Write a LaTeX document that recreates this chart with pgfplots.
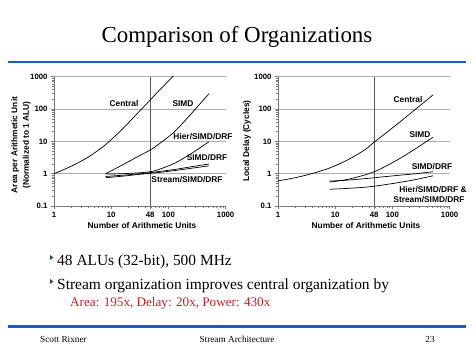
\documentclass[border=0pt]{standalone}
\usepackage{pgfplots}
\pgfplotsset{compat=1.18}
\usepackage{fontspec}
\setmainfont{Liberation Serif}
\setsansfont{Liberation Sans}
\definecolor{slideblue}{RGB}{25,90,205}
\definecolor{gridgray}{RGB}{175,175,175}
\definecolor{axgray}{RGB}{120,120,120}
\definecolor{redtxt}{RGB}{200,30,40}
\definecolor{bulletc}{RGB}{50,70,120}
\newcommand{\labfont}{\sffamily\bfseries\fontsize{8.4}{11.5}\selectfont}
\newcommand{\tickfont}{\sffamily\bfseries\fontsize{7.8}{9}\selectfont}
\begin{document}
\begin{tikzpicture}
\path[use as bounding box] (0,0) rectangle (474bp,-355bp);

% Title and slide decorations
\node[anchor=base, font=\fontsize{23}{27}\selectfont] at (237bp,-42bp) {Comparison of Organizations};
\draw[slideblue, line width=2.7bp] (8bp,-62bp) -- (466bp,-62bp);
\draw[slideblue, line width=2.5bp] (8bp,-326.5bp) -- (466bp,-326.5bp);

% Left plot: area
\begin{axis}[
    at={(54bp,-206bp)}, anchor=south west,
    xmode=log, ymode=log, scale only axis,
    width=171.6bp, height=129.2bp,
    xmin=1, xmax=1000, ymin=0.1, ymax=1000,
    axis x line*=bottom, axis y line*=left,
    axis line style={axgray, line width=0.8bp},
    xtick={1,10,48,100,1000}, xticklabels={1,10,48,100,1000},
    ytick={0.1,1,10,100,1000}, yticklabels={0.1,1,10,100,1000},
    minor xtick={2,3,4,5,6,7,8,9,20,30,40,50,60,70,80,90,200,300,400,500,600,700,800,900},
    ymajorgrids=true,
    major grid style={gridgray, line width=0.8bp},
    tick align=outside,
    major tick length=3bp, minor tick length=2bp,
    tick style={axgray, line width=0.6bp},
    ticklabel style={font=\tickfont, text=black},
  ]
\addplot[color=black!65, line width=1.1bp, mark=none] coordinates {(48,0.1) (48,1000)};
\addplot[black, line width=0.7bp, smooth, mark=none] coordinates {(1,1) (2,1.7) (4,3.3) (8,8) (16,25) (32,90) (48,190) (64,330) (128,1150)};
\addplot[black, line width=0.7bp, smooth, mark=none] coordinates {(8,1) (16,1.9) (32,3.7) (48,5.4) (64,7.6) (128,20) (256,75) (512,300)};
\addplot[black, line width=0.7bp, smooth, mark=none] coordinates {(8,0.97) (16,1.0) (32,1.07) (48,1.15) (64,1.3) (128,2.1) (256,4.3) (512,9.8)};
\addplot[black, line width=0.7bp, smooth, mark=none] coordinates {(8,0.82) (16,0.9) (32,1.0) (48,1.08) (64,1.15) (128,1.35) (256,1.65) (512,2.0)};
\addplot[black, line width=0.7bp, smooth, mark=none] coordinates {(8,0.75) (16,0.84) (32,0.96) (48,1.03) (64,1.08) (128,1.25) (256,1.48) (512,1.75)};
\end{axis}
\node[font=\labfont] at (124bp,-104bp) {Central};
\node[font=\labfont] at (183bp,-104bp) {SIMD};
\node[font=\labfont] at (203bp,-137bp) {Hier/SIMD/DRF};
\node[font=\labfont] at (207bp,-158bp) {SIMD/DRF};
\node[font=\labfont] at (187bp,-180bp) {Stream/SIMD/DRF};
\node[rotate=90, font=\labfont, align=center] at (21bp,-145bp) {Area per Arithmetic Unit\\(Normalized to 1 ALU)};
\node[font=\labfont] at (142bp,-226bp) {Number of Arithmetic Units};

% Right plot: delay
\begin{axis}[
    at={(278bp,-206bp)}, anchor=south west,
    xmode=log, ymode=log, scale only axis,
    width=171.6bp, height=129.2bp,
    xmin=1, xmax=1000, ymin=0.1, ymax=1000,
    axis x line*=bottom, axis y line*=left,
    axis line style={axgray, line width=0.8bp},
    xtick={1,10,48,100,1000}, xticklabels={1,10,48,100,1000},
    ytick={0.1,1,10,100,1000}, yticklabels={0.1,1,10,100,1000},
    minor xtick={2,3,4,5,6,7,8,9,20,30,40,50,60,70,80,90,200,300,400,500,600,700,800,900},
    ymajorgrids=true,
    major grid style={gridgray, line width=0.8bp},
    tick align=outside,
    major tick length=3bp, minor tick length=2bp,
    tick style={axgray, line width=0.6bp},
    ticklabel style={font=\tickfont, text=black},
  ]
\addplot[color=black!65, line width=1.1bp, mark=none] coordinates {(48,0.1) (48,1000)};
\addplot[black, line width=0.7bp, smooth, mark=none] coordinates {(1,0.6) (2,0.75) (4,1.02) (8,1.5) (16,2.6) (32,5.3) (48,9.5) (64,14) (128,37) (256,100) (512,275)};
\addplot[black, line width=0.7bp, smooth, mark=none] coordinates {(8,0.55) (16,0.66) (32,0.9) (48,1.15) (64,1.45) (128,2.8) (256,6) (512,13.5)};
\addplot[black, line width=0.7bp, smooth, mark=none] coordinates {(8,0.59) (16,0.63) (32,0.7) (48,0.75) (64,0.79) (128,0.89) (256,1.0) (512,1.15)};
\addplot[black, line width=0.7bp, smooth, mark=none] coordinates {(8,0.33) (16,0.35) (32,0.38) (48,0.41) (64,0.44) (128,0.53) (256,0.66) (512,0.86)};
\end{axis}
\node[font=\labfont] at (408bp,-100bp) {Central};
\node[font=\labfont] at (420bp,-135bp) {SIMD};
\node[font=\labfont] at (432bp,-167bp) {SIMD/DRF};
\node[font=\labfont] at (433bp,-190bp) {Hier/SIMD/DRF \&};
\node[font=\labfont] at (429bp,-200bp) {Stream/SIMD/DRF};
\node[rotate=90, font=\labfont] at (247bp,-141bp) {Local Delay (Cycles)};
\node[font=\labfont] at (366bp,-226bp) {Number of Arithmetic Units};

% Bullets
\fill[bulletc] (50bp,-255bp) -- (53.5bp,-257.5bp) -- (50bp,-260bp) -- cycle;
\node[anchor=base west, inner sep=0pt, font=\fontsize{15.5}{18}\selectfont] at (57bp,-265bp) {48 ALUs (32-bit), 500 MHz};
\fill[bulletc] (50bp,-279bp) -- (53.5bp,-281.5bp) -- (50bp,-284bp) -- cycle;
\node[anchor=base west, inner sep=0pt, font=\fontsize{15.5}{18}\selectfont] at (57bp,-289bp) {Stream organization improves central organization by};
\node[anchor=base west, inner sep=0pt, text=redtxt, font=\fontsize{13.2}{16}\selectfont] at (70bp,-306bp) {Area: 195x, Delay: 20x, Power: 430x};

% Footer
\node[anchor=base west, inner sep=0pt, font=\fontsize{9.3}{11}\selectfont] at (40bp,-342bp) {Scott Rixner};
\node[anchor=base, inner sep=0pt, font=\fontsize{9.3}{11}\selectfont] at (237bp,-342bp) {Stream Architecture};
\node[anchor=base, inner sep=0pt, font=\fontsize{9.3}{11}\selectfont] at (430bp,-342bp) {23};
\end{tikzpicture}
\end{document}
